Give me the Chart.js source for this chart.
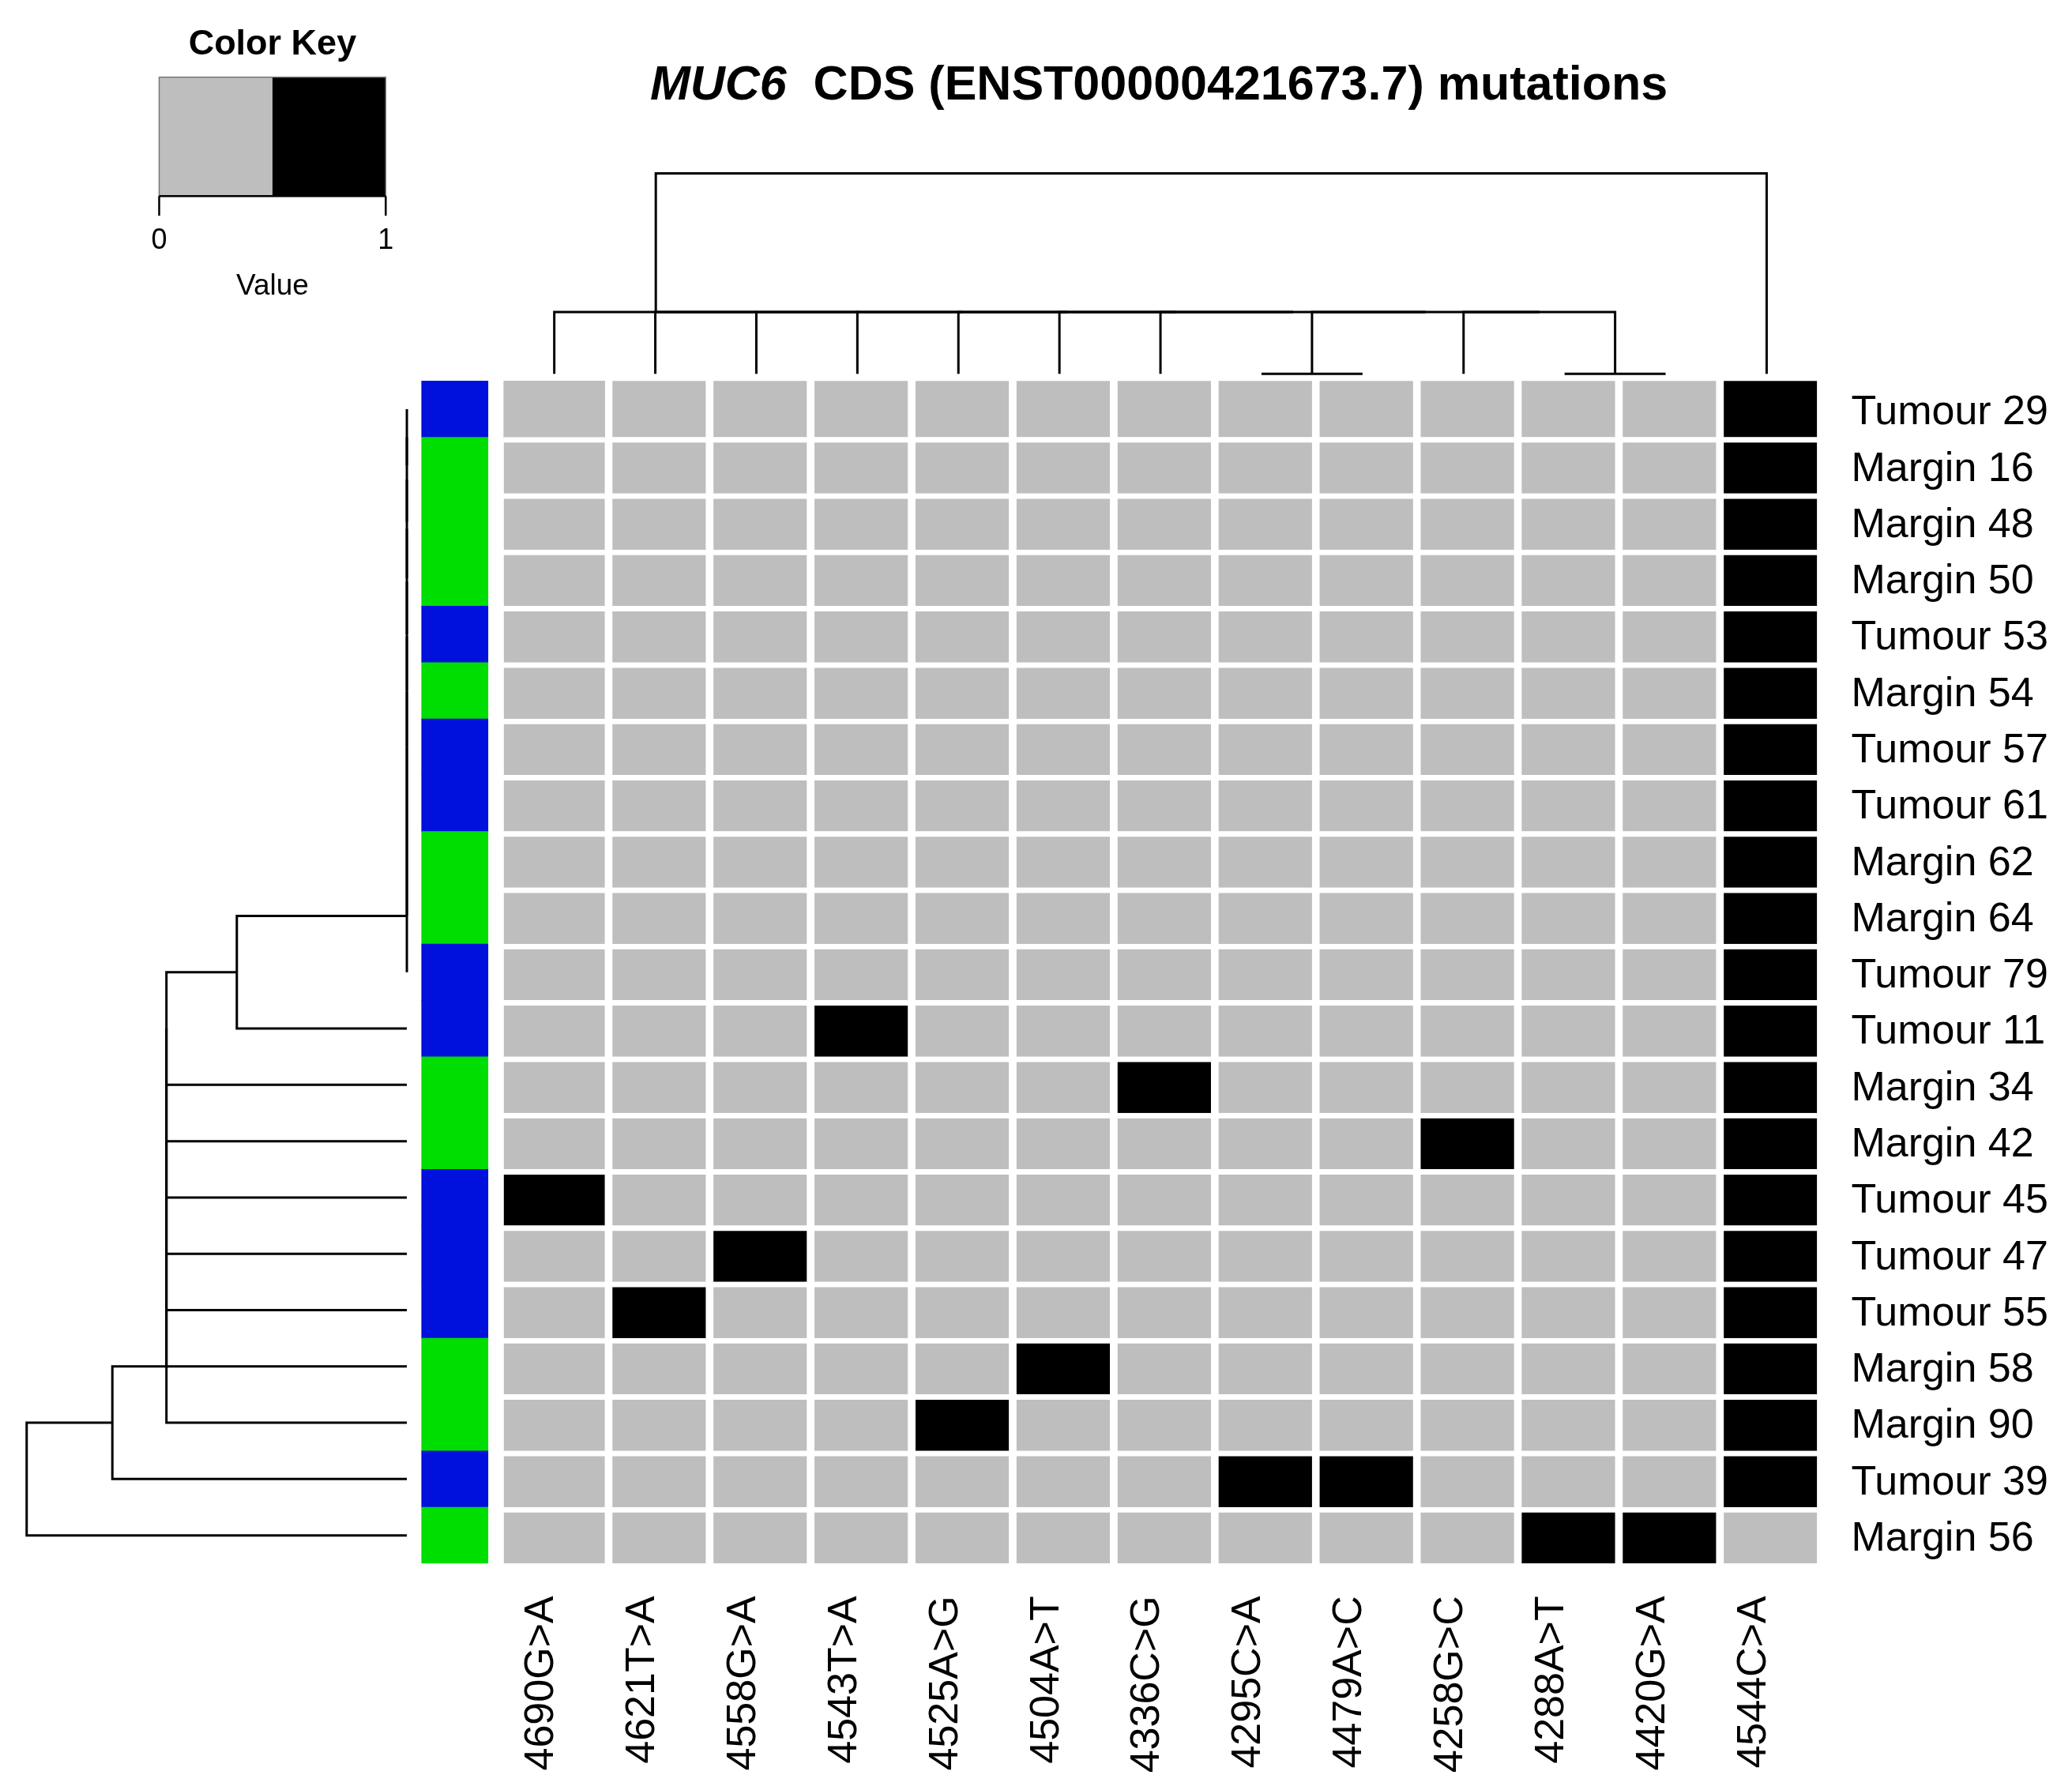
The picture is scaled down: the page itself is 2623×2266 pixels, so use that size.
<!DOCTYPE html>
<html>
<head>
<meta charset="utf-8">
<script src="https://cdn.jsdelivr.net/npm/chart.js@4.4.1/dist/chart.umd.min.js"></script>
<style>
  html, body { margin: 0; padding: 0; background: #ffffff; }
  #c { display: block; width: 2623px; height: 2266px; }
</style>
</head>
<body>
<canvas id="c" width="2623" height="2266"></canvas>
<script>
// ---------------- DATA ----------------
const rowLabels = ['Tumour 29','Margin 16','Margin 48','Margin 50','Tumour 53','Margin 54','Tumour 57',
  'Tumour 61','Margin 62','Margin 64','Tumour 79','Tumour 11','Margin 34','Margin 42','Tumour 45',
  'Tumour 47','Tumour 55','Margin 58','Margin 90','Tumour 39','Margin 56'];

const colLabels = ['4690G>A','4621T>A','4558G>A','4543T>A','4525A>G','4504A>T','4336C>G',
  '4295C>A','4479A>C','4258G>C','4288A>T','4420G>A','4544C>A'];

// 1 = mutation present (black), 0 = absent (grey); rows follow rowLabels, columns follow colLabels
const mutationMatrix = [
  [0,0,0,0,0,0,0,0,0,0,0,0,1],
  [0,0,0,0,0,0,0,0,0,0,0,0,1],
  [0,0,0,0,0,0,0,0,0,0,0,0,1],
  [0,0,0,0,0,0,0,0,0,0,0,0,1],
  [0,0,0,0,0,0,0,0,0,0,0,0,1],
  [0,0,0,0,0,0,0,0,0,0,0,0,1],
  [0,0,0,0,0,0,0,0,0,0,0,0,1],
  [0,0,0,0,0,0,0,0,0,0,0,0,1],
  [0,0,0,0,0,0,0,0,0,0,0,0,1],
  [0,0,0,0,0,0,0,0,0,0,0,0,1],
  [0,0,0,0,0,0,0,0,0,0,0,0,1],
  [0,0,0,1,0,0,0,0,0,0,0,0,1],
  [0,0,0,0,0,0,1,0,0,0,0,0,1],
  [0,0,0,0,0,0,0,0,0,1,0,0,1],
  [1,0,0,0,0,0,0,0,0,0,0,0,1],
  [0,0,1,0,0,0,0,0,0,0,0,0,1],
  [0,1,0,0,0,0,0,0,0,0,0,0,1],
  [0,0,0,0,0,1,0,0,0,0,0,0,1],
  [0,0,0,0,1,0,0,0,0,0,0,0,1],
  [0,0,0,0,0,0,0,1,1,0,0,0,1],
  [0,0,0,0,0,0,0,0,0,0,1,1,0]
];

// dendrogram merges [a, b, height]; negative = leaf (1-based display position), positive = earlier merge
const rowMerges = [
  [-1,-2,0],[1,-3,0],[2,-4,0],[3,-5,0],[4,-6,0],[5,-7,0],[6,-8,0],[7,-9,0],[8,-10,0],[9,-11,0],
  [10,-12,1.0],
  [11,-13,1.414],[12,-14,1.414],[13,-15,1.414],[14,-16,1.414],[15,-17,1.414],[16,-18,1.414],[17,-19,1.414],
  [18,-20,1.732],
  [19,-21,2.236]
];
const colMerges = [
  [-8,-9,0],[-11,-12,0],
  [-10,2,1.414],[1,3,1.414],[-7,4,1.414],[-6,5,1.414],[-5,6,1.414],[-4,7,1.414],[-3,8,1.414],[-2,9,1.414],[-1,10,1.414],
  [11,-13,4.583]
];

const keyBreaks = [0, 0.5, 1];
const keyTicks = [0, 1];
const titleGene = 'MUC6';
const titleRest = 'CDS (ENST00000421673.7) mutations';

// ---------------- STYLE / LAYOUT ----------------
const FONT = '"Liberation Sans", Arial, Helvetica, sans-serif';
const GREY = '#BEBEBE', BLACK = '#000000';
const keyColors = [GREY, BLACK];
const groupColor = { Tumour: '#0010DD', Margin: '#00DD00' };
const SIDE_RANGE = [-0.813, -0.156];
const ROW_LEAF_X = -0.959, ROW_H_SCALE = 1.683;
const COL_LEAF_GAP = 0.126, COL_H_SCALE = 0.777;

function dendroPaths(merges) {
  const pos = [], hgt = [];
  const P = k => k < 0 ? (-k - 1) + 0.5 : pos[k - 1];
  const H = k => k < 0 ? 0 : hgt[k - 1];
  const paths = [];
  merges.forEach(([a, b, h], n) => {
    paths.push([[P(a), H(a)], [P(a), h], [P(b), h], [P(b), H(b)]]);
    pos[n] = (P(a) + P(b)) / 2;
    hgt[n] = h;
  });
  return paths;
}

const sideDataset = {
  label: 'group',
  data: rowLabels.map((r, i) => ({ y: i + 0.5, x: SIDE_RANGE })),
  backgroundColor: ctx => groupColor[rowLabels[ctx.dataIndex].split(' ')[0]],
  borderWidth: 0,
  borderSkipped: false
};

const cellDatasets = colLabels.map((lab, j) => ({
  label: lab,
  data: rowLabels.map((r, i) => ({ y: i + 0.5, x: [j, j + 1] })),
  backgroundColor: ctx => mutationMatrix[ctx.dataIndex][j] ? BLACK : GREY,
  borderColor: '#ffffff',
  borderWidth: ctx => ({ left: j > 0 ? 10 : 0, top: ctx.dataIndex > 0 ? 7 : 0, right: 0, bottom: 0 }),
  borderSkipped: false
}));

const drawPlugin = {
  id: 'heatmapExtras',
  beforeDraw(chart) {
    const ctx = chart.ctx;
    ctx.save();
    ctx.fillStyle = '#ffffff';
    ctx.fillRect(0, 0, chart.width, chart.height);
    ctx.restore();
  },
  afterDatasetsDraw(chart) {
    const { ctx } = chart;
    const x = chart.scales.x, y = chart.scales.y;
    ctx.save();
    ctx.strokeStyle = '#000';
    ctx.lineWidth = 3;
    ctx.lineCap = 'butt';
    ctx.lineJoin = 'miter';
    dendroPaths(colMerges).forEach(path => {
      ctx.beginPath();
      path.forEach(([p, h], k) => {
        const px = x.getPixelForValue(p);
        const py = y.getPixelForValue(-(COL_LEAF_GAP + h * COL_H_SCALE));
        if (k) ctx.lineTo(px, py); else ctx.moveTo(px, py);
      });
      ctx.stroke();
    });
    dendroPaths(rowMerges).forEach(path => {
      ctx.beginPath();
      path.forEach(([p, h], k) => {
        const px = x.getPixelForValue(ROW_LEAF_X - h * ROW_H_SCALE);
        const py = y.getPixelForValue(p);
        if (k) ctx.lineTo(px, py); else ctx.moveTo(px, py);
      });
      ctx.stroke();
    });
    ctx.restore();
  },
  afterDraw(chart) {
    const { ctx } = chart;
    ctx.save();
    // Title (italic gene name + bold rest)
    ctx.fillStyle = '#000';
    ctx.textBaseline = 'alphabetic';
    const fGene = 'italic bold 61px ' + FONT;
    const fRest = 'bold 61px ' + FONT;
    ctx.font = fGene; const wGene = ctx.measureText(titleGene).width;
    ctx.font = fRest; const wSp = ctx.measureText('  ').width; const wRest = ctx.measureText(titleRest).width;
    const total = wGene + wSp + wRest;
    const tx = 1467 - total / 2;
    ctx.textAlign = 'left';
    ctx.font = fGene; ctx.fillText(titleGene, tx, 126);
    ctx.font = fRest; ctx.fillText(titleRest, tx + wGene + wSp, 126);

    // Color key
    const kx0 = 201.5, kx1 = 488.3, ky0 = 97.7, ky1 = 248.3;
    const kp = v => kx0 + (kx1 - kx0) * v;
    ctx.textAlign = 'center';
    ctx.font = 'bold 45px ' + FONT;
    ctx.fillText('Color Key', (kx0 + kx1) / 2, 69);
    keyColors.forEach((c, k) => {
      ctx.fillStyle = c;
      ctx.fillRect(kp(keyBreaks[k]), ky0, kp(keyBreaks[k + 1]) - kp(keyBreaks[k]), ky1 - ky0);
    });
    ctx.strokeStyle = '#777';
    ctx.lineWidth = 1.5;
    ctx.strokeRect(kx0, ky0, kx1 - kx0, ky1 - ky0);
    ctx.strokeStyle = '#000';
    ctx.lineWidth = 2.5;
    ctx.beginPath();
    ctx.moveTo(kx0, ky1); ctx.lineTo(kx1, ky1);
    keyTicks.forEach(t => { ctx.moveTo(kp(t), ky1); ctx.lineTo(kp(t), 273); });
    ctx.stroke();
    ctx.fillStyle = '#000';
    ctx.font = '36px ' + FONT;
    keyTicks.forEach(t => ctx.fillText(String(t), kp(t), 315));
    ctx.font = '37px ' + FONT;
    ctx.fillText('Value', (kx0 + kx1) / 2, 373);
    ctx.restore();
  }
};

new Chart(document.getElementById('c'), {
  type: 'bar',
  data: { datasets: [sideDataset, ...cellDatasets] },
  options: {
    indexAxis: 'y',
    responsive: false,
    devicePixelRatio: 1,
    animation: false,
    datasets: { bar: { grouped: false, barPercentage: 1, categoryPercentage: 1 } },
    layout: { padding: { left: 30.2, top: 211.4, right: 0, bottom: 0 } },
    plugins: { legend: { display: false }, tooltip: { enabled: false }, title: { display: false } },
    scales: {
      x: {
        type: 'linear', min: -4.75, max: 13, position: 'bottom', offset: false,
        grid: { display: false, drawTicks: false, offset: false }, border: { display: false },
        afterBuildTicks: s => { s.ticks = colLabels.map((_, j) => ({ value: j + 0.5 })); },
        afterFit: s => { s.height = 286.7; },
        ticks: {
          autoSkip: false, minRotation: 90, maxRotation: 90, padding: 41, labelOffset: -16,
          color: '#000', font: { family: FONT, size: 52 },
          callback: (v, i) => colLabels[i]
        }
      },
      y: {
        type: 'linear', min: -3.8, max: 21, reverse: true, position: 'right', offset: false,
        grid: { display: false, drawTicks: false, offset: false }, border: { display: false },
        afterBuildTicks: s => { s.ticks = rowLabels.map((_, i) => ({ value: i + 0.5 })); },
        afterFit: s => { s.width = 322.6; },
        ticks: {
          autoSkip: false, padding: 43, labelOffset: 5, color: '#000', font: { family: FONT, size: 52 },
          callback: (v, i) => rowLabels[i]
        }
      }
    }
  },
  plugins: [drawPlugin]
});
</script>
</body>
</html>
